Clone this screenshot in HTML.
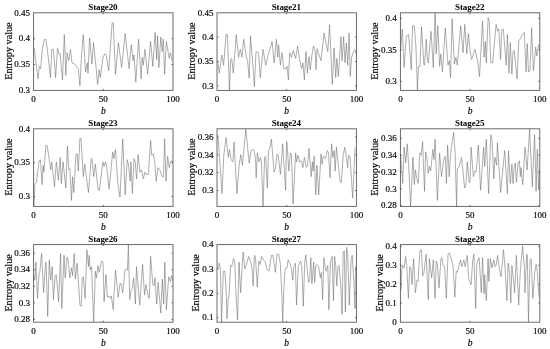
<!DOCTYPE html>
<html><head><meta charset="utf-8"><title>Entropy value by stage</title>
<style>
html,body{margin:0;padding:0;background:#fff;}
svg{display:block;}
text{font-family:"Liberation Serif","Times New Roman",serif;fill:#000;stroke:#000;stroke-width:0.16px;}
.t{font-size:9px;font-weight:bold;text-anchor:middle;stroke:none;letter-spacing:-0.12px;}
.k{font-size:9px;}
.yl{font-size:10.2px;text-anchor:middle;}
.xl{font-size:9.5px;font-style:italic;text-anchor:middle;}
.ax{fill:none;stroke:#5c5c5c;stroke-width:0.9;}
.tk{stroke:#3a3a3a;stroke-width:0.7;}
.ln{fill:none;stroke:#6a6a6a;stroke-width:0.55;stroke-linejoin:round;}
</style></head>
<body>
<svg width="550" height="349" viewBox="0 0 550 349">
<rect width="550" height="349" fill="#fff"/>
<defs><clipPath id="c0"><rect x="33.6" y="12.8" width="139.4" height="77.6"/></clipPath><clipPath id="c1"><rect x="217.0" y="12.8" width="139.4" height="77.6"/></clipPath><clipPath id="c2"><rect x="400.4" y="12.8" width="139.4" height="77.6"/></clipPath><clipPath id="c3"><rect x="33.6" y="128.8" width="139.4" height="77.6"/></clipPath><clipPath id="c4"><rect x="217.0" y="128.8" width="139.4" height="77.6"/></clipPath><clipPath id="c5"><rect x="400.4" y="128.8" width="139.4" height="77.6"/></clipPath><clipPath id="c6"><rect x="33.6" y="244.6" width="139.4" height="77.6"/></clipPath><clipPath id="c7"><rect x="217.0" y="244.6" width="139.4" height="77.6"/></clipPath><clipPath id="c8"><rect x="400.4" y="244.6" width="139.4" height="77.6"/></clipPath></defs>
<g>
<polyline class="ln" clip-path="url(#c0)" points="34.4,48.2 35.3,57.3 38.0,78.8 39.3,66.3 40.5,68.6 42.5,48.2 44.3,39.6 46.1,39.6 48.0,55.0 50.4,77.6 51.8,49.4 53.4,49.4 55.6,77.6 57.5,48.2 59.0,53.9 60.2,53.9 62.5,79.9 64.3,34.6 65.8,75.4 67.0,52.7 68.8,60.7 70.4,49.4 72.0,62.9 74.9,64.1 77.2,67.5 78.3,68.6 79.9,85.6 81.7,52.7 83.3,34.6 85.6,72.0 87.4,62.9 88.0,73.1 89.6,38.0 91.9,64.1 93.5,42.6 96.4,70.8 97.6,84.4 99.2,69.7 100.3,77.6 103.0,57.3 104.8,53.9 106.2,55.0 108.7,70.8 112.1,23.3 113.2,22.2 115.5,74.2 118.4,42.6 121.6,67.5 125.2,33.5 129.1,68.6 131.3,44.8 133.1,60.7 134.0,55.0 135.8,82.2 138.6,39.2 141.1,78.8 142.2,57.3 143.3,65.2 144.9,49.4 147.6,74.2 150.6,41.4 152.8,66.3 155.1,32.4 156.7,59.5 157.6,35.8 158.9,67.5 160.8,36.9 162.3,51.6 163.3,39.2 164.6,74.2 166.4,41.4 169.2,58.4 170.5,52.7 172.1,60.7"/>
<rect class="ax" x="33.6" y="12.8" width="139.4" height="77.6"/>
<text class="k" text-anchor="middle" x="33.6" y="102.0">0</text>
<line class="tk" x1="103.3" y1="90.4" x2="103.3" y2="88.9"/><line class="tk" x1="103.3" y1="12.8" x2="103.3" y2="14.3"/><text class="k" text-anchor="middle" x="103.3" y="102.0">50</text>
<text class="k" text-anchor="middle" x="173.0" y="102.0">100</text>
<text class="k" text-anchor="end" x="30.0" y="93.1">0.3</text>
<line class="tk" x1="33.6" y1="64.5" x2="35.1" y2="64.5"/><line class="tk" x1="173.0" y1="64.5" x2="171.5" y2="64.5"/><text class="k" text-anchor="end" x="30.0" y="67.2">0.35</text>
<line class="tk" x1="33.6" y1="38.7" x2="35.1" y2="38.7"/><line class="tk" x1="173.0" y1="38.7" x2="171.5" y2="38.7"/><text class="k" text-anchor="end" x="30.0" y="41.4">0.4</text>
<text class="k" text-anchor="end" x="30.0" y="15.5">0.45</text>
<text class="t" x="102.9" y="9.8">Stage20</text>
<text class="xl" x="103.3" y="113.9">b</text>
<text class="yl" transform="translate(11.5,51.1) rotate(-90)">Entropy value</text>
</g>
<g>
<polyline class="ln" clip-path="url(#c1)" points="217.7,60.7 219.3,73.1 221.8,55.0 223.6,65.2 226.1,34.0 227.4,34.6 229.5,91.0 230.6,59.5 231.7,58.4 233.3,73.1 236.3,34.6 238.5,57.3 240.3,49.4 241.9,57.3 243.7,39.2 246.4,57.3 247.6,60.7 249.2,78.1 250.5,35.8 252.6,61.8 254.4,86.7 256.0,51.6 258.5,52.7 260.3,77.6 263.0,49.4 265.7,65.2 267.3,58.4 272.1,41.4 274.1,62.9 276.4,39.2 277.7,57.3 278.6,44.8 280.4,65.2 282.0,52.7 283.8,68.6 286.1,68.6 287.0,66.3 288.4,79.9 289.7,52.7 291.5,57.3 293.3,50.5 295.6,58.4 297.6,46.0 299.5,59.5 301.7,68.6 302.9,62.9 304.4,79.9 306.0,51.6 307.4,73.1 309.0,56.8 310.3,69.7 311.9,55.0 313.5,46.0 315.3,51.6 316.0,69.7 317.1,48.7 318.7,53.9 321.0,60.7 324.1,33.0 326.6,46.0 327.8,51.6 329.6,24.9 332.3,84.4 334.1,47.8 335.7,77.6 336.8,58.4 338.4,76.5 340.9,36.7 342.1,60.7 343.6,36.7 345.0,62.9 346.4,43.0 347.7,65.2 349.1,33.0 350.2,76.5 351.6,57.3 352.7,53.9 354.7,49.6 356.1,53.9"/>
<rect class="ax" x="217.0" y="12.8" width="139.4" height="77.6"/>
<text class="k" text-anchor="middle" x="217.0" y="102.0">0</text>
<line class="tk" x1="286.7" y1="90.4" x2="286.7" y2="88.9"/><line class="tk" x1="286.7" y1="12.8" x2="286.7" y2="14.3"/><text class="k" text-anchor="middle" x="286.7" y="102.0">50</text>
<text class="k" text-anchor="middle" x="356.4" y="102.0">100</text>
<line class="tk" x1="217.0" y1="85.8" x2="218.5" y2="85.8"/><line class="tk" x1="356.4" y1="85.8" x2="354.9" y2="85.8"/><text class="k" text-anchor="end" x="213.4" y="88.5">0.3</text>
<line class="tk" x1="217.0" y1="61.5" x2="218.5" y2="61.5"/><line class="tk" x1="356.4" y1="61.5" x2="354.9" y2="61.5"/><text class="k" text-anchor="end" x="213.4" y="64.2">0.35</text>
<line class="tk" x1="217.0" y1="37.1" x2="218.5" y2="37.1"/><line class="tk" x1="356.4" y1="37.1" x2="354.9" y2="37.1"/><text class="k" text-anchor="end" x="213.4" y="39.8">0.4</text>
<text class="k" text-anchor="end" x="213.4" y="15.5">0.45</text>
<text class="t" x="286.3" y="9.8">Stage21</text>
<text class="xl" x="286.7" y="113.9">b</text>
<text class="yl" transform="translate(194.9,51.1) rotate(-90)">Entropy value</text>
</g>
<g>
<polyline class="ln" clip-path="url(#c2)" points="400.7,49.4 402.3,29.0 404.1,67.5 406.3,35.8 408.6,34.6 411.3,69.7 412.5,25.6 414.3,26.0 415.9,46.0 417.4,90.1 418.6,66.3 419.9,66.3 421.5,26.7 423.8,64.1 424.5,65.2 426.3,39.2 427.2,57.3 428.3,62.9 431.0,31.2 433.3,67.5 435.1,12.0 436.2,53.9 437.8,25.6 439.6,66.3 440.8,53.9 442.4,72.0 445.3,27.9 448.0,65.2 449.4,60.7 450.5,77.6 452.1,18.8 454.4,64.1 455.9,57.3 457.3,65.2 460.7,25.6 463.0,52.7 464.8,24.4 466.8,53.9 468.4,33.5 470.0,50.5 471.6,59.5 475.0,49.4 477.9,62.9 479.5,76.5 482.5,21.1 484.1,57.3 485.4,41.4 486.3,62.9 488.1,17.7 489.3,21.1 490.8,62.9 492.6,62.9 496.1,24.4 497.6,31.2 498.8,29.0 500.6,59.5 501.7,30.1 503.3,29.0 506.2,65.2 507.4,34.6 509.0,73.1 510.3,42.6 511.9,74.2 513.0,51.6 514.2,50.5 517.1,78.8 518.7,41.4 523.2,33.5 524.4,32.4 526.0,72.0 527.3,43.7 528.5,72.0 530.0,70.8 531.6,27.9 533.4,70.8 535.7,47.1 536.8,56.1 538.6,44.8 540.0,48.2"/>
<rect class="ax" x="400.4" y="12.8" width="139.4" height="77.6"/>
<text class="k" text-anchor="middle" x="400.4" y="102.0">0</text>
<line class="tk" x1="470.1" y1="90.4" x2="470.1" y2="88.9"/><line class="tk" x1="470.1" y1="12.8" x2="470.1" y2="14.3"/><text class="k" text-anchor="middle" x="470.1" y="102.0">50</text>
<text class="k" text-anchor="middle" x="539.8" y="102.0">100</text>
<line class="tk" x1="400.4" y1="81.3" x2="401.9" y2="81.3"/><line class="tk" x1="539.8" y1="81.3" x2="538.3" y2="81.3"/><text class="k" text-anchor="end" x="396.8" y="84.0">0.3</text>
<line class="tk" x1="400.4" y1="49.8" x2="401.9" y2="49.8"/><line class="tk" x1="539.8" y1="49.8" x2="538.3" y2="49.8"/><text class="k" text-anchor="end" x="396.8" y="52.5">0.35</text>
<line class="tk" x1="400.4" y1="18.3" x2="401.9" y2="18.3"/><line class="tk" x1="539.8" y1="18.3" x2="538.3" y2="18.3"/><text class="k" text-anchor="end" x="396.8" y="21.0">0.4</text>
<text class="t" x="469.7" y="9.8">Stage22</text>
<text class="xl" x="470.1" y="113.9">b</text>
<text class="yl" transform="translate(378.3,51.1) rotate(-90)">Entropy value</text>
</g>
<g>
<polyline class="ln" clip-path="url(#c3)" points="34.1,206.1 34.4,195.9 34.8,183.5 36.4,182.3 39.1,160.8 40.5,160.1 42.1,184.6 43.2,165.3 43.9,172.1 45.9,145.0 47.3,146.1 50.7,169.9 51.8,161.9 54.5,186.8 56.3,161.9 58.4,180.1 60.2,157.4 61.3,183.5 63.1,161.9 65.8,188.0 67.4,146.1 68.8,169.9 69.9,168.7 71.5,200.4 72.6,176.7 73.8,192.5 76.0,154.0 77.2,154.0 78.3,171.0 79.9,138.2 81.0,138.2 83.3,176.7 84.7,164.2 88.5,192.5 91.2,158.6 91.9,158.6 93.7,176.7 95.3,164.2 98.2,190.2 99.4,190.2 101.0,176.7 103.0,161.9 104.1,166.5 105.3,161.9 106.4,164.2 109.1,189.1 112.7,151.8 113.9,158.6 115.5,149.5 117.7,182.3 120.0,197.0 122.7,138.9 125.2,194.8 127.2,159.7 128.4,164.2 130.2,181.2 130.9,161.9 132.4,193.6 134.0,158.6 135.2,161.9 136.5,178.9 138.1,154.7 139.9,172.1 141.5,169.9 143.3,178.9 144.9,172.1 146.0,174.4 148.3,174.4 150.6,140.4 151.7,155.2 153.3,154.0 154.7,161.9 156.2,181.2 157.8,167.6 159.6,169.9 162.3,176.7 163.5,176.7 164.6,138.9 166.0,181.2 167.6,156.3 169.2,167.6 171.0,160.8 173.0,161.5"/>
<rect class="ax" x="33.6" y="128.8" width="139.4" height="77.6"/>
<text class="k" text-anchor="middle" x="33.6" y="218.0">0</text>
<line class="tk" x1="103.3" y1="206.4" x2="103.3" y2="204.9"/><line class="tk" x1="103.3" y1="128.8" x2="103.3" y2="130.3"/><text class="k" text-anchor="middle" x="103.3" y="218.0">50</text>
<text class="k" text-anchor="middle" x="173.0" y="218.0">100</text>
<line class="tk" x1="33.6" y1="196.6" x2="35.1" y2="196.6"/><line class="tk" x1="173.0" y1="196.6" x2="171.5" y2="196.6"/><text class="k" text-anchor="end" x="30.0" y="199.3">0.3</text>
<line class="tk" x1="33.6" y1="162.7" x2="35.1" y2="162.7"/><line class="tk" x1="173.0" y1="162.7" x2="171.5" y2="162.7"/><text class="k" text-anchor="end" x="30.0" y="165.4">0.35</text>
<text class="k" text-anchor="end" x="30.0" y="131.5">0.4</text>
<text class="t" x="102.9" y="125.8">Stage23</text>
<text class="xl" x="103.3" y="229.9">b</text>
<text class="yl" transform="translate(11.5,167.1) rotate(-90)">Entropy value</text>
</g>
<g>
<polyline class="ln" clip-path="url(#c4)" points="217.7,134.8 218.8,146.1 222.0,193.6 223.8,155.2 226.1,137.5 228.3,157.4 229.5,149.5 231.1,159.7 232.9,161.9 234.0,142.0 236.9,193.6 239.0,166.5 240.8,154.7 242.4,165.3 245.8,129.1 249.2,163.1 251.0,150.6 253.2,149.5 254.4,151.8 255.5,159.7 256.2,177.8 257.3,152.9 258.9,161.9 260.5,157.4 261.4,161.9 263.0,207.0 264.6,157.4 265.7,156.3 267.3,188.0 268.6,150.6 269.8,148.4 271.4,139.3 274.1,172.1 275.4,168.7 277.0,154.0 278.2,155.2 280.4,174.4 282.7,143.8 285.6,190.2 286.6,141.6 287.0,142.7 288.8,171.0 290.4,152.9 291.5,155.2 293.1,203.8 295.6,152.9 296.5,161.9 297.9,155.2 299.5,161.9 301.1,160.8 302.9,167.6 304.4,157.4 306.3,167.6 307.4,166.5 309.0,148.4 311.2,176.7 312.4,161.9 313.1,171.0 314.2,156.3 315.8,194.8 316.9,165.3 318.7,194.8 321.0,154.0 322.1,164.2 323.2,156.3 325.5,158.6 327.3,150.6 328.5,152.9 330.0,177.8 331.6,143.8 332.8,157.4 334.1,150.6 335.2,171.0 336.4,147.2 338.0,161.9 340.2,182.3 341.4,182.3 343.2,155.2 344.8,147.2 346.4,157.4 347.7,167.6 348.6,155.2 350.0,156.3 352.7,198.2 355.0,148.4 356.1,147.2"/>
<rect class="ax" x="217.0" y="128.8" width="139.4" height="77.6"/>
<text class="k" text-anchor="middle" x="217.0" y="218.0">0</text>
<line class="tk" x1="286.7" y1="206.4" x2="286.7" y2="204.9"/><line class="tk" x1="286.7" y1="128.8" x2="286.7" y2="130.3"/><text class="k" text-anchor="middle" x="286.7" y="218.0">50</text>
<text class="k" text-anchor="middle" x="356.4" y="218.0">100</text>
<line class="tk" x1="217.0" y1="190.5" x2="218.5" y2="190.5"/><line class="tk" x1="356.4" y1="190.5" x2="354.9" y2="190.5"/><text class="k" text-anchor="end" x="213.4" y="193.2">0.3</text>
<line class="tk" x1="217.0" y1="172.7" x2="218.5" y2="172.7"/><line class="tk" x1="356.4" y1="172.7" x2="354.9" y2="172.7"/><text class="k" text-anchor="end" x="213.4" y="175.4">0.32</text>
<line class="tk" x1="217.0" y1="154.8" x2="218.5" y2="154.8"/><line class="tk" x1="356.4" y1="154.8" x2="354.9" y2="154.8"/><text class="k" text-anchor="end" x="213.4" y="157.5">0.34</text>
<line class="tk" x1="217.0" y1="137.0" x2="218.5" y2="137.0"/><line class="tk" x1="356.4" y1="137.0" x2="354.9" y2="137.0"/><text class="k" text-anchor="end" x="213.4" y="139.7">0.36</text>
<text class="t" x="286.3" y="125.8">Stage24</text>
<text class="xl" x="286.7" y="229.9">b</text>
<text class="yl" transform="translate(194.9,167.1) rotate(-90)">Entropy value</text>
</g>
<g>
<polyline class="ln" clip-path="url(#c5)" points="400.7,154.0 402.7,183.5 404.1,147.2 405.7,163.1 407.2,143.8 408.6,164.2 410.6,206.1 412.9,157.4 414.3,184.6 415.4,169.9 416.3,175.5 418.1,183.5 419.9,152.9 421.1,155.2 422.6,141.6 424.5,191.4 425.6,151.8 426.7,156.3 428.3,173.3 429.4,166.5 430.6,171.0 432.9,149.5 434.0,159.7 435.1,139.3 437.4,200.4 439.6,152.9 441.5,176.7 444.2,157.4 445.3,156.3 446.4,183.5 447.6,145.0 449.2,176.7 451.0,149.5 453.7,132.5 455.1,152.9 456.6,207.0 457.3,168.7 458.9,167.6 461.6,157.4 464.6,188.0 465.7,186.8 467.3,161.9 469.1,182.3 470.0,182.3 471.1,147.2 473.4,176.7 475.0,171.0 476.1,172.1 478.4,145.0 480.6,190.2 483.6,147.2 484.7,166.5 486.3,139.3 488.6,193.6 490.8,134.8 492.0,139.3 493.8,178.9 494.9,157.4 496.7,165.3 497.4,142.7 500.6,192.5 504.7,150.6 507.4,193.6 508.5,150.6 510.3,183.5 511.9,164.2 513.0,183.5 514.2,167.6 515.3,163.1 516.4,182.3 518.2,161.9 519.4,160.8 520.3,176.7 521.0,167.6 522.8,184.6 525.0,147.2 527.1,169.9 529.6,129.1 532.3,186.8 534.6,134.8 536.1,191.4 537.3,149.5 538.6,189.1 539.5,169.9"/>
<rect class="ax" x="400.4" y="128.8" width="139.4" height="77.6"/>
<text class="k" text-anchor="middle" x="400.4" y="218.0">0</text>
<line class="tk" x1="470.1" y1="206.4" x2="470.1" y2="204.9"/><line class="tk" x1="470.1" y1="128.8" x2="470.1" y2="130.3"/><text class="k" text-anchor="middle" x="470.1" y="218.0">50</text>
<text class="k" text-anchor="middle" x="539.8" y="218.0">100</text>
<line class="tk" x1="400.4" y1="205.7" x2="401.9" y2="205.7"/><line class="tk" x1="539.8" y1="205.7" x2="538.3" y2="205.7"/><text class="k" text-anchor="end" x="396.8" y="208.4">0.28</text>
<line class="tk" x1="400.4" y1="188.9" x2="401.9" y2="188.9"/><line class="tk" x1="539.8" y1="188.9" x2="538.3" y2="188.9"/><text class="k" text-anchor="end" x="396.8" y="191.6">0.3</text>
<line class="tk" x1="400.4" y1="172.1" x2="401.9" y2="172.1"/><line class="tk" x1="539.8" y1="172.1" x2="538.3" y2="172.1"/><text class="k" text-anchor="end" x="396.8" y="174.8">0.32</text>
<line class="tk" x1="400.4" y1="155.2" x2="401.9" y2="155.2"/><line class="tk" x1="539.8" y1="155.2" x2="538.3" y2="155.2"/><text class="k" text-anchor="end" x="396.8" y="157.9">0.34</text>
<line class="tk" x1="400.4" y1="138.4" x2="401.9" y2="138.4"/><line class="tk" x1="539.8" y1="138.4" x2="538.3" y2="138.4"/><text class="k" text-anchor="end" x="396.8" y="141.1">0.36</text>
<text class="t" x="469.7" y="125.8">Stage25</text>
<text class="xl" x="470.1" y="229.9">b</text>
<text class="yl" transform="translate(378.3,167.1) rotate(-90)">Entropy value</text>
</g>
<g>
<polyline class="ln" clip-path="url(#c6)" points="33.7,273.4 34.8,280.2 35.9,262.1 37.5,298.3 39.1,273.4 39.8,272.3 41.6,253.5 43.6,292.7 45.5,263.2 46.1,262.1 47.7,316.4 49.3,259.9 50.7,280.2 52.3,266.6 53.4,299.5 55.2,275.7 56.3,274.6 58.6,301.7 60.6,253.5 61.8,308.5 64.0,255.3 65.2,277.9 67.0,257.1 68.1,259.9 69.9,277.9 71.5,267.8 72.6,275.7 74.2,253.5 75.4,279.1 77.2,263.2 79.9,305.1 81.2,306.2 82.2,277.9 83.3,276.8 85.1,298.3 86.9,249.7 88.5,266.6 89.2,255.3 90.3,270.0 91.5,266.6 93.7,322.1 95.3,271.2 96.4,277.9 98.0,265.5 99.2,272.3 101.6,261.0 103.0,262.1 104.1,301.7 105.9,274.6 107.5,297.2 109.1,296.1 110.5,298.3 111.4,296.1 113.2,309.6 115.5,270.0 118.2,297.2 120.0,283.6 121.1,283.6 122.7,292.7 125.0,270.0 126.3,268.9 127.5,270.0 128.4,244.0 129.7,299.5 131.3,289.3 132.4,288.1 133.6,277.9 135.4,304.0 136.5,266.6 139.7,305.1 142.6,264.4 144.5,294.9 146.0,284.7 148.3,297.2 149.4,298.3 150.6,256.4 152.8,284.7 154.0,285.9 154.9,277.9 156.7,304.0 158.1,282.5 160.8,313.0 162.3,279.1 163.7,304.0 164.8,262.1 166.4,309.6 168.7,276.8 170.3,281.4 171.6,275.7 173.0,281.4"/>
<rect class="ax" x="33.6" y="244.6" width="139.4" height="77.6"/>
<text class="k" text-anchor="middle" x="33.6" y="333.8">0</text>
<line class="tk" x1="103.3" y1="322.2" x2="103.3" y2="320.7"/><line class="tk" x1="103.3" y1="244.6" x2="103.3" y2="246.1"/><text class="k" text-anchor="middle" x="103.3" y="333.8">50</text>
<text class="k" text-anchor="middle" x="173.0" y="333.8">100</text>
<line class="tk" x1="33.6" y1="319.4" x2="35.1" y2="319.4"/><line class="tk" x1="173.0" y1="319.4" x2="171.5" y2="319.4"/><text class="k" text-anchor="end" x="30.0" y="322.1">0.28</text>
<line class="tk" x1="33.6" y1="302.8" x2="35.1" y2="302.8"/><line class="tk" x1="173.0" y1="302.8" x2="171.5" y2="302.8"/><text class="k" text-anchor="end" x="30.0" y="305.5">0.3</text>
<line class="tk" x1="33.6" y1="286.3" x2="35.1" y2="286.3"/><line class="tk" x1="173.0" y1="286.3" x2="171.5" y2="286.3"/><text class="k" text-anchor="end" x="30.0" y="289.0">0.32</text>
<line class="tk" x1="33.6" y1="269.7" x2="35.1" y2="269.7"/><line class="tk" x1="173.0" y1="269.7" x2="171.5" y2="269.7"/><text class="k" text-anchor="end" x="30.0" y="272.4">0.34</text>
<line class="tk" x1="33.6" y1="253.2" x2="35.1" y2="253.2"/><line class="tk" x1="173.0" y1="253.2" x2="171.5" y2="253.2"/><text class="k" text-anchor="end" x="30.0" y="255.9">0.36</text>
<text class="t" x="102.9" y="241.6">Stage26</text>
<text class="xl" x="103.3" y="345.7">b</text>
<text class="yl" transform="translate(11.5,282.9) rotate(-90)">Entropy value</text>
</g>
<g>
<polyline class="ln" clip-path="url(#c7)" points="217.4,268.9 218.1,267.8 219.3,263.2 220.4,268.9 221.5,323.0 223.3,271.2 224.9,271.2 226.1,289.3 227.0,318.7 228.3,297.2 229.0,297.2 230.6,265.5 231.7,266.6 233.5,258.7 234.7,261.0 236.3,300.6 237.6,319.8 239.0,262.1 240.6,292.7 243.1,251.9 244.9,268.9 246.4,264.4 248.7,256.4 251.0,263.2 252.1,268.9 253.2,285.9 254.4,255.3 255.5,257.6 257.3,287.0 258.9,261.0 260.0,264.4 261.6,256.4 263.4,259.9 265.2,262.1 267.3,270.0 269.1,271.2 271.4,255.3 272.9,255.3 275.4,272.3 277.0,254.2 278.8,254.2 280.4,264.4 282.0,298.3 282.7,323.0 283.8,289.3 285.0,270.0 286.1,267.8 287.0,267.8 288.1,259.9 289.3,262.1 291.5,268.9 292.7,280.2 293.8,266.6 295.4,263.2 296.5,305.1 298.3,266.6 300.6,261.0 301.7,265.5 303.3,306.2 304.7,262.1 305.8,254.9 307.4,271.2 308.5,282.5 309.6,281.4 310.8,257.6 311.9,283.6 313.7,262.1 314.6,282.5 315.8,265.5 317.1,264.4 318.7,266.6 320.3,277.9 321.4,272.3 322.6,299.5 323.9,257.6 325.1,266.6 326.2,271.2 327.8,265.5 328.9,309.6 330.5,262.1 332.3,256.4 333.4,300.6 334.6,256.4 335.7,265.5 336.8,285.9 338.0,266.6 339.1,265.5 340.7,284.7 342.1,314.2 343.2,251.9 344.3,250.8 345.4,311.9 346.6,247.4 347.7,253.1 349.3,305.1 351.1,259.9 352.2,255.3 353.8,280.2 355.0,308.5 355.6,266.6"/>
<rect class="ax" x="217.0" y="244.6" width="139.4" height="77.6"/>
<text class="k" text-anchor="middle" x="217.0" y="333.8">0</text>
<line class="tk" x1="286.7" y1="322.2" x2="286.7" y2="320.7"/><line class="tk" x1="286.7" y1="244.6" x2="286.7" y2="246.1"/><text class="k" text-anchor="middle" x="286.7" y="333.8">50</text>
<text class="k" text-anchor="middle" x="356.4" y="333.8">100</text>
<line class="tk" x1="217.0" y1="317.6" x2="218.5" y2="317.6"/><line class="tk" x1="356.4" y1="317.6" x2="354.9" y2="317.6"/><text class="k" text-anchor="end" x="213.4" y="320.3">0.1</text>
<line class="tk" x1="217.0" y1="293.3" x2="218.5" y2="293.3"/><line class="tk" x1="356.4" y1="293.3" x2="354.9" y2="293.3"/><text class="k" text-anchor="end" x="213.4" y="296.0">0.2</text>
<line class="tk" x1="217.0" y1="268.9" x2="218.5" y2="268.9"/><line class="tk" x1="356.4" y1="268.9" x2="354.9" y2="268.9"/><text class="k" text-anchor="end" x="213.4" y="271.6">0.3</text>
<text class="k" text-anchor="end" x="213.4" y="247.3">0.4</text>
<text class="t" x="286.3" y="241.6">Stage27</text>
<text class="xl" x="286.7" y="345.7">b</text>
<text class="yl" transform="translate(199.4,282.9) rotate(-90)">Entropy value</text>
</g>
<g>
<polyline class="ln" clip-path="url(#c8)" points="401.1,290.4 401.8,268.9 402.9,265.5 404.1,267.8 405.7,256.4 406.8,266.6 408.4,298.3 409.7,266.6 410.9,267.8 412.0,284.7 413.6,258.7 415.4,292.7 417.0,280.2 418.1,281.4 419.9,250.8 421.5,249.7 422.6,275.7 423.8,273.4 426.1,254.2 428.3,299.5 429.4,258.7 430.6,268.9 431.7,277.9 433.3,259.9 435.1,298.3 436.2,261.0 437.4,264.4 439.0,288.1 440.8,259.9 441.9,257.6 443.0,265.5 444.6,266.6 446.4,298.3 448.0,254.2 449.4,253.1 451.0,257.6 453.2,266.6 454.8,297.2 456.2,271.2 457.3,272.3 460.5,259.9 461.8,266.6 463.9,259.9 465.2,266.6 467.3,255.3 468.6,277.9 469.6,281.4 470.0,281.4 471.1,284.7 472.7,261.0 473.9,254.2 475.7,308.5 476.8,263.2 479.1,257.6 481.3,292.7 482.5,257.6 484.1,293.8 484.7,274.6 486.3,300.6 488.1,258.7 488.8,281.4 490.4,258.7 492.0,267.8 493.8,259.9 494.9,266.6 496.1,265.5 497.6,255.3 499.4,268.9 501.0,276.8 503.5,249.7 505.1,268.9 506.9,300.6 508.1,263.2 509.6,273.4 510.8,302.9 511.9,265.5 513.5,280.2 514.6,292.7 516.4,255.3 518.7,305.1 520.3,271.2 522.6,245.8 524.4,268.9 525.0,292.7 526.6,254.2 527.3,255.3 528.5,323.0 530.0,259.9 531.2,258.7 532.8,298.3 534.6,273.4 536.1,264.4 537.3,271.2 538.6,291.5 539.5,298.3"/>
<rect class="ax" x="400.4" y="244.6" width="139.4" height="77.6"/>
<text class="k" text-anchor="middle" x="400.4" y="333.8">0</text>
<line class="tk" x1="470.1" y1="322.2" x2="470.1" y2="320.7"/><line class="tk" x1="470.1" y1="244.6" x2="470.1" y2="246.1"/><text class="k" text-anchor="middle" x="470.1" y="333.8">50</text>
<text class="k" text-anchor="middle" x="539.8" y="333.8">100</text>
<text class="k" text-anchor="end" x="396.8" y="324.9">0</text>
<line class="tk" x1="400.4" y1="303.2" x2="401.9" y2="303.2"/><line class="tk" x1="539.8" y1="303.2" x2="538.3" y2="303.2"/><text class="k" text-anchor="end" x="396.8" y="305.9">0.1</text>
<line class="tk" x1="400.4" y1="284.3" x2="401.9" y2="284.3"/><line class="tk" x1="539.8" y1="284.3" x2="538.3" y2="284.3"/><text class="k" text-anchor="end" x="396.8" y="287.0">0.2</text>
<line class="tk" x1="400.4" y1="265.3" x2="401.9" y2="265.3"/><line class="tk" x1="539.8" y1="265.3" x2="538.3" y2="265.3"/><text class="k" text-anchor="end" x="396.8" y="268.0">0.3</text>
<line class="tk" x1="400.4" y1="246.3" x2="401.9" y2="246.3"/><line class="tk" x1="539.8" y1="246.3" x2="538.3" y2="246.3"/><text class="k" text-anchor="end" x="396.8" y="249.0">0.4</text>
<text class="t" x="469.7" y="241.6">Stage28</text>
<text class="xl" x="470.1" y="345.7">b</text>
<text class="yl" transform="translate(382.8,282.9) rotate(-90)">Entropy value</text>
</g>
</svg>
</body></html>
